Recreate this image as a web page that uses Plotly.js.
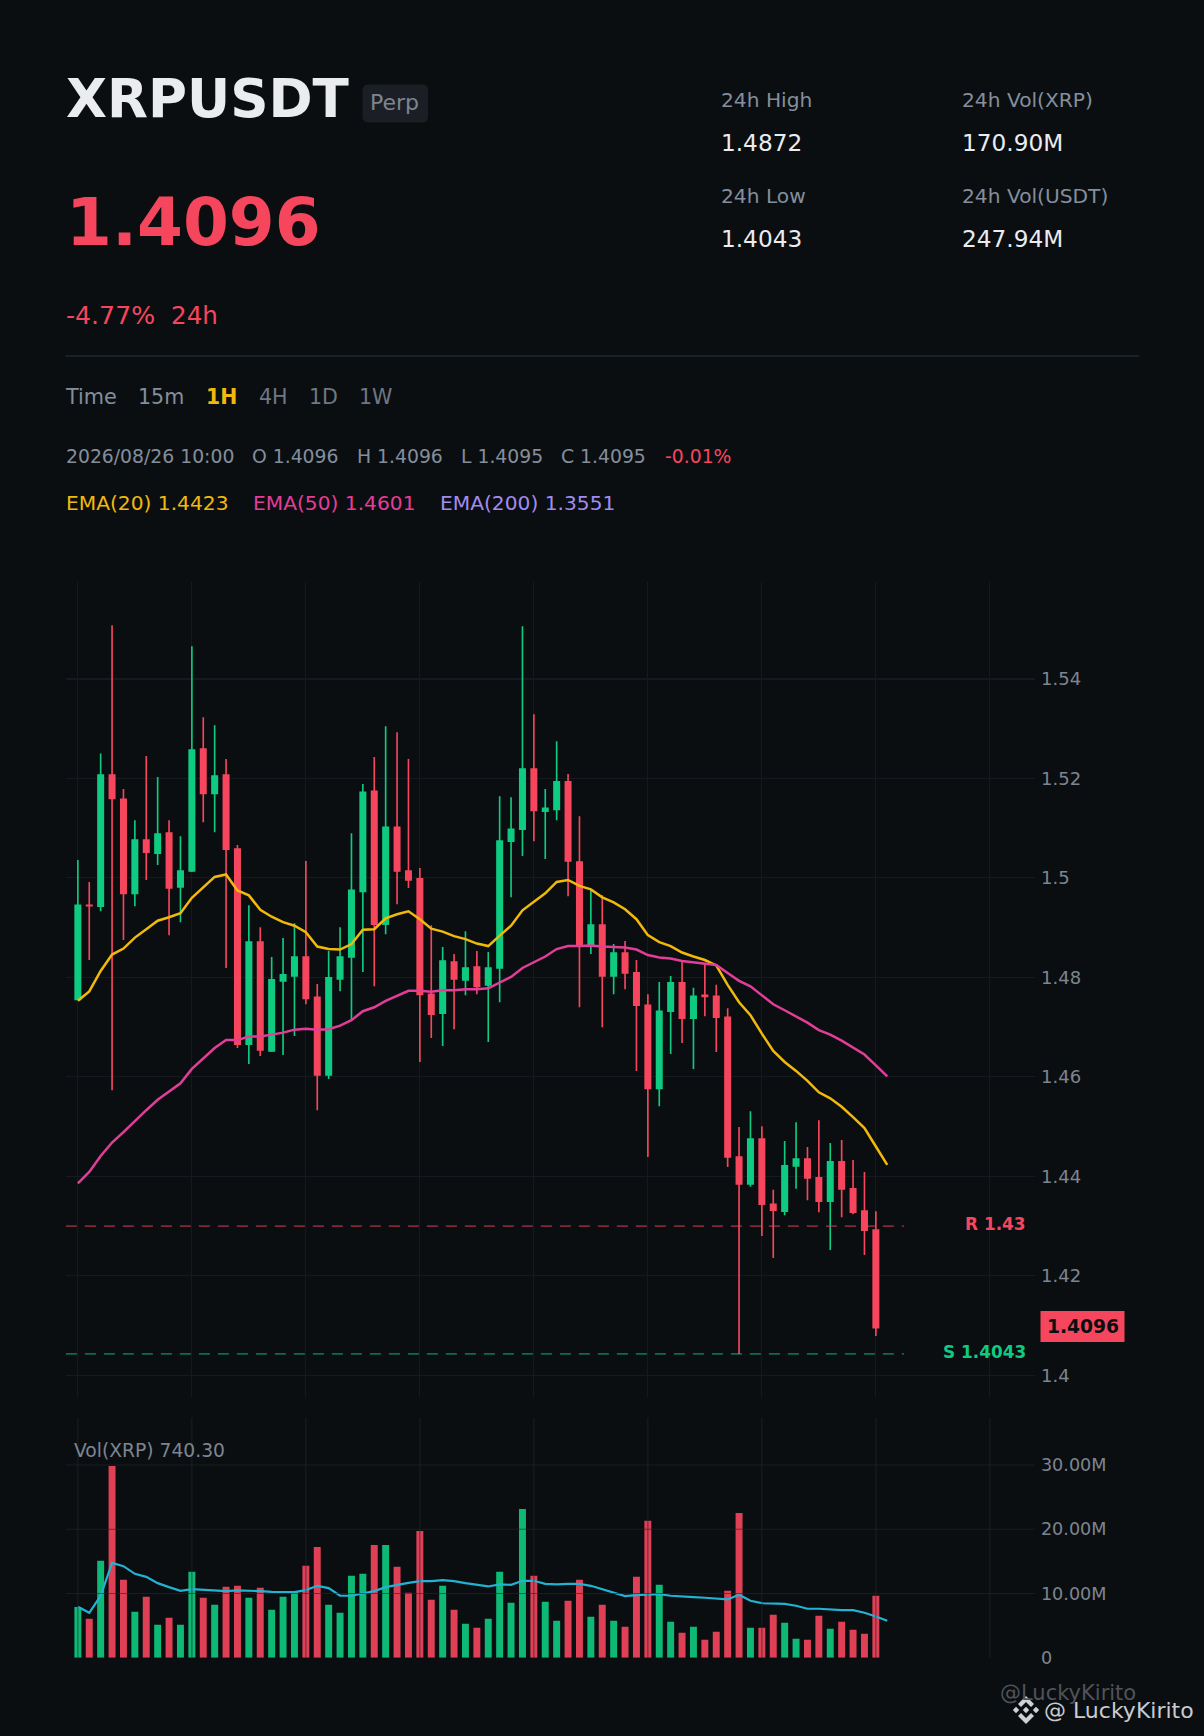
<!DOCTYPE html>
<html>
<head>
<meta charset="utf-8">
<script src="https://cdn.plot.ly/plotly-3.0.1.min.js"></script>
<style>html,body{margin:0;padding:0;background:#0b0e11}#chart{width:1204px;height:1736px}</style>
</head>
<body>
<div id="chart"></div>
<script>
const openPrice = [1.4756,1.4945,1.4943,1.5207,1.5158,1.4969,1.5076,1.5050,1.5090,1.4982,
1.5014,1.5259,1.5170,1.5207,1.5058,1.4666,1.4871,1.4652,1.4793,1.4803,
1.4841,1.4760,1.4604,1.4797,1.4841,1.4973,1.5174,1.4907,1.5102,1.5014,
1.4998,1.4766,1.4728,1.4831,1.4795,1.4821,1.4785,1.4819,1.5074,1.5098,
1.5219,1.5134,1.5138,1.5193,1.5032,1.4865,1.4905,1.4803,1.4849,1.4809,
1.4744,1.4577,1.4732,1.4789,1.4718,1.4764,1.4762,1.4720,1.4439,1.4385,
1.4475,1.4344,1.4330,1.4421,1.4435,1.4397,1.4350,1.4429,1.4375,1.4330,1.4292];
const closePrice = [1.4945,1.4944,1.5207,1.5160,1.4969,1.5076,1.5052,1.5088,1.4980,1.5014,
1.5257,1.5170,1.5205,1.5058,1.4666,1.4871,1.4654,1.4795,1.4805,1.4841,
1.4758,1.4604,1.4799,1.4841,1.4975,1.5172,1.4907,1.5102,1.5014,1.4996,
1.4766,1.4726,1.4833,1.4797,1.4819,1.4782,1.4819,1.5074,1.5098,1.5219,
1.5136,1.5140,1.5193,1.5034,1.4865,1.4905,1.4803,1.4849,1.4809,1.4744,
1.4577,1.4732,1.4789,1.4718,1.4762,1.4762,1.4720,1.4439,1.4385,1.4475,
1.4344,1.4332,1.4421,1.4435,1.4397,1.4350,1.4429,1.4375,1.4328,1.4292,1.4096];
const highPrice = [1.5036,1.4992,1.5250,1.5508,1.5179,1.5116,1.5245,1.5203,1.5116,1.5084,
1.5466,1.5323,1.5307,1.5239,1.5066,1.4945,1.4901,1.4841,1.4879,1.4909,
1.5034,1.4787,1.4853,1.4901,1.5090,1.5189,1.5243,1.5305,1.5293,1.5239,
1.5020,1.4905,1.4861,1.4847,1.4893,1.4853,1.4851,1.5164,1.5162,1.5506,
1.5329,1.5179,1.5275,1.5209,1.5124,1.4975,1.4965,1.4867,1.4873,1.4835,
1.4766,1.4791,1.4803,1.4835,1.4779,1.4828,1.4785,1.4738,1.4499,1.4531,
1.4501,1.4373,1.4471,1.4509,1.4459,1.4513,1.4467,1.4473,1.4433,1.4409,1.4330];
const lowPrice = [1.4756,1.4835,1.4933,1.4573,1.4875,1.4943,1.4996,1.5026,1.4885,1.4911,
1.5012,1.5112,1.5092,1.4819,1.4658,1.4626,1.4642,1.4650,1.4644,1.4682,
1.4746,1.4533,1.4596,1.4772,1.4714,1.4811,1.4782,1.4887,1.4947,1.4980,
1.4630,1.4678,1.4662,1.4696,1.4764,1.4766,1.4670,1.4750,1.4961,1.5044,
1.5074,1.5038,1.5116,1.4963,1.4740,1.4847,1.4700,1.4766,1.4776,1.4612,
1.4439,1.4541,1.4646,1.4668,1.4616,1.4722,1.4650,1.4419,1.4043,1.4379,
1.4280,1.4236,1.4322,1.4375,1.4352,1.4328,1.4252,1.4318,1.4324,1.4242,1.4079];
const ema20 = [1.4753,1.4772,1.4813,1.4846,1.4858,1.4880,1.4897,1.4914,1.4921,1.4929,
1.4960,1.4981,1.5002,1.5007,1.4975,1.4965,1.4936,1.4922,1.4911,1.4904,
1.4891,1.4862,1.4857,1.4856,1.4867,1.4896,1.4897,1.4919,1.4927,1.4933,
1.4917,1.4898,1.4892,1.4883,1.4877,1.4868,1.4863,1.4884,1.4904,1.4935,
1.4952,1.4969,1.4992,1.4996,1.4984,1.4977,1.4961,1.4951,1.4937,1.4917,
1.4885,1.4871,1.4863,1.4850,1.4842,1.4835,1.4824,1.4785,1.4750,1.4724,
1.4687,1.4652,1.4630,1.4612,1.4592,1.4569,1.4557,1.4540,1.4519,1.4497,1.4460,1.4423];
const ema50 = [1.4386,1.4409,1.4441,1.4468,1.4489,1.4512,1.4533,1.4554,1.4570,1.4587,
1.4616,1.4637,1.4658,1.4674,1.4674,1.4681,1.4681,1.4685,1.4689,1.4695,
1.4697,1.4695,1.4696,1.4703,1.4714,1.4732,1.4740,1.4753,1.4763,1.4773,
1.4773,1.4771,1.4774,1.4774,1.4776,1.4776,1.4778,1.4789,1.4801,1.4819,
1.4830,1.4842,1.4857,1.4863,1.4863,1.4864,1.4862,1.4861,1.4860,1.4856,
1.4845,1.4840,1.4838,1.4833,1.4830,1.4828,1.4825,1.4809,1.4793,1.4782,
1.4764,1.4746,1.4734,1.4722,1.4709,1.4694,1.4685,1.4673,1.4659,1.4645,1.4623,1.4601];
const volumeM = [7.88,6.06,15.08,29.84,12.12,7.15,9.48,5.13,6.22,5.13,
13.37,9.33,8.24,11.04,11.19,9.33,10.88,7.46,9.48,10.26,
14.30,17.25,8.24,6.99,12.75,13.06,17.56,17.56,14.15,10.10,
19.74,9.02,11.19,7.46,5.28,4.66,6.06,13.37,8.55,23.16,
12.75,8.70,5.75,8.86,12.12,6.37,8.24,5.75,4.82,12.59,
21.30,11.35,5.60,3.89,4.82,2.80,4.04,10.41,22.54,4.66,
4.66,6.68,5.44,2.95,2.80,6.53,4.51,5.60,4.35,3.73,9.64];
const volumeMA = [7.93,6.99,9.64,14.77,14.25,13.06,12.59,11.61,10.98,10.41,
10.67,10.57,10.36,10.36,10.47,10.36,10.36,10.26,10.21,10.21,
10.52,11.19,10.83,9.64,9.64,9.95,10.36,10.98,11.35,11.66,
11.92,11.92,12.07,11.92,11.61,11.35,11.09,11.40,11.35,11.97,
11.97,11.50,11.40,11.50,11.50,11.19,10.67,10.10,9.59,9.74,
9.79,9.90,9.64,9.48,9.43,9.33,9.22,9.07,9.79,8.86,
8.50,8.39,8.39,8.08,7.62,7.62,7.46,7.41,7.41,6.99,6.42,5.75];
const resistance = 1.43, support = 1.4043, lastPrice = '1.4096';
const priceTicks = [1.4,1.42,1.44,1.46,1.48,1.5,1.52,1.54];
const volTicks = [0,10,20,30];
const volTickLabels = ['0','10.00M','20.00M','30.00M'];
const stats = [['24h High','1.4872'],['24h Low','1.4043'],['24h Vol(XRP)','170.90M'],['24h Vol(USDT)','247.94M']];
const intervals = ['15m','1H','4H','1D','1W'];
const ohlcRow = ['2026/08/26 10:00','O 1.4096','H 1.4096','L 1.4095','C 1.4095'];
const emaRow = ['EMA(20) 1.4423','EMA(50) 1.4601','EMA(200) 1.3551'];

const W=1204,H=1736, FONT='"DejaVu Sans", sans-serif';
const UP='#0ecb81', DOWN='#f6465d', BG='#0b0e11', GRAY='#848e9c', GRID='#161a20', GRID_TOP='rgba(34,38,44,0.62)', PINK='#e23d98';
const px=x=>x/W, py=y=>1-y/H;
const idx=n=>Array.from({length:n},(_,i)=>i);
function T(x,y,text,size,color,o){o=o||{};return {xref:'paper',yref:'paper',x:px(x),y:py(y),text:o.bold?'<b>'+text+'</b>':text,showarrow:false,
  xanchor:o.anchor||'left',yanchor:'middle',borderpad:0,borderwidth:0,font:{family:FONT,size:size,color:color}};}
function poly(pts,fill){return {type:'path',xref:'paper',yref:'paper',layer:'above',line:{width:0},fillcolor:fill,
  path:'M'+pts.map(p=>px(p[0])+','+py(p[1])).join('L')+'Z'};}
function rrect(x0,y0,x1,y1,r,fill){const X=px,Y=py;return {type:'path',xref:'paper',yref:'paper',layer:'above',line:{width:0},fillcolor:fill,
  path:`M${X(x0+r)},${Y(y0)}L${X(x1-r)},${Y(y0)}Q${X(x1)},${Y(y0)} ${X(x1)},${Y(y0+r)}L${X(x1)},${Y(y1-r)}Q${X(x1)},${Y(y1)} ${X(x1-r)},${Y(y1)}L${X(x0+r)},${Y(y1)}Q${X(x0)},${Y(y1)} ${X(x0)},${Y(y1-r)}L${X(x0)},${Y(y0+r)}Q${X(x0)},${Y(y0)} ${X(x0+r)},${Y(y0)}Z`};}

const barColors = closePrice.map((c,i)=>c>=openPrice[i]?'rgba(14,203,129,0.9)':'rgba(246,70,93,0.9)');
const levelX=[-1.05,72.46];
const traces=[
 {type:'candlestick',x:idx(closePrice.length),open:openPrice,high:highPrice,low:lowPrice,close:closePrice,xaxis:'x',yaxis:'y',whiskerwidth:0,
  increasing:{line:{color:UP,width:1.65},fillcolor:UP},decreasing:{line:{color:DOWN,width:1.65},fillcolor:DOWN},showlegend:false,hoverinfo:'skip'},
 {type:'scatter',mode:'lines',x:levelX,y:[resistance,resistance],xaxis:'x',yaxis:'y',line:{color:'rgba(246,70,93,0.5)',width:1.65,dash:'11px,8px'},hoverinfo:'skip'},
 {type:'scatter',mode:'lines',x:levelX,y:[support,support],xaxis:'x',yaxis:'y',line:{color:'rgba(14,203,129,0.5)',width:1.65,dash:'11px,8px'},hoverinfo:'skip'},
 {type:'scatter',mode:'lines',x:idx(ema20.length),y:ema20,xaxis:'x',yaxis:'y',line:{color:'#f0b90b',width:2.5},hoverinfo:'skip'},
 {type:'scatter',mode:'lines',x:idx(ema50.length),y:ema50,xaxis:'x',yaxis:'y',line:{color:PINK,width:2.5},hoverinfo:'skip'},
 {type:'bar',x:idx(volumeM.length),y:volumeM,xaxis:'x2',yaxis:'y2',width:0.61,marker:{color:barColors,line:{width:0}},hoverinfo:'skip'},
 {type:'scatter',mode:'lines',x:idx(volumeMA.length),y:volumeMA,xaxis:'x2',yaxis:'y2',line:{color:'#22b2d2',width:2.2},hoverinfo:'skip'}
];

const xRange=[-1.04,83.96];
const commonX={range:xRange,showticklabels:false,zeroline:false,showline:false,ticks:'',fixedrange:true,tick0:0,dtick:10};
const layout={width:W,height:H,margin:{l:0,r:0,t:0,b:0,pad:0},paper_bgcolor:BG,plot_bgcolor:BG,showlegend:false,hovermode:false,boxgap:0.53,boxgroupgap:0,
 font:{family:FONT},
 xaxis:Object.assign({},commonX,{domain:[px(66),px(1035)],anchor:'y',showgrid:true,gridcolor:GRID,gridwidth:1.1,rangeslider:{visible:false}}),
 xaxis2:Object.assign({},commonX,{domain:[px(66),px(1035)],anchor:'y2',showgrid:false}),
 yaxis:{domain:[py(1396.7),py(582)],range:[1.3957,1.5595],side:'right',anchor:'x',tickmode:'array',tickvals:priceTicks,ticktext:priceTicks.map(String),showgrid:true,gridcolor:GRID,gridwidth:1.1,
   zeroline:false,showline:false,ticks:'outside',ticklen:1.4,tickcolor:'rgba(0,0,0,0)',tickfont:{family:FONT,size:18,color:'#7d8590'},fixedrange:true},
 yaxis2:{domain:[py(1657.7),py(1417.7)],range:[0,37.36],side:'right',anchor:'x2',tickmode:'array',tickvals:volTicks,ticktext:volTickLabels,showgrid:false,
   zeroline:false,showline:false,ticks:'outside',ticklen:1.4,tickcolor:'rgba(0,0,0,0)',tickfont:{family:FONT,size:17.6,color:'#7d8590'},fixedrange:true},
 shapes:[],annotations:[]
};

// separator, badge, last price tag
layout.shapes.push({type:'line',xref:'paper',yref:'paper',x0:px(65.5),x1:px(1139),y0:py(356),y1:py(356),line:{color:'#1e2733',width:1.6}});
layout.shapes.push(rrect(362.5,84.5,428,122.5,6,'#1b1f25'));
layout.shapes.push({type:'rect',xref:'paper',yref:'paper',x0:px(1040.5),x1:px(1124.5),y0:py(1311),y1:py(1342),fillcolor:DOWN,line:{width:0},layer:'above'});
// volume panel grid sits over the bars
for(let i=0;i<=8;i++) layout.shapes.push({type:'line',layer:'above',xref:'x2',yref:'paper',x0:i*10,x1:i*10,y0:py(1657.7),y1:py(1417.7),line:{color:GRID_TOP,width:1.1}});
volTicks.slice(1).forEach(v=>layout.shapes.push({type:'line',layer:'above',xref:'paper',yref:'y2',x0:px(66),x1:px(1035),y0:v,y1:v,line:{color:GRID_TOP,width:1.1}}));
// watermark logo
const lx=1026,ly=1710,LOGO='#cfd1d4';
const dia=(cx,cy,r)=>poly([[cx,cy-r],[cx+r,cy],[cx,cy+r],[cx-r,cy]],LOGO);
layout.shapes.push(dia(lx,ly,3.2),dia(lx-10,ly,3.2),dia(lx+10,ly,3.2));
layout.shapes.push(poly([[lx,ly-14],[lx+8,ly-6],[lx+5,ly-3],[lx,ly-8],[lx-5,ly-3],[lx-8,ly-6]],LOGO));
layout.shapes.push(poly([[lx,ly+14],[lx+8,ly+6],[lx+5,ly+3],[lx,ly+8],[lx-5,ly+3],[lx-8,ly+6]],LOGO));

const A=layout.annotations;
A.push(T(65.5,99,'XRPUSDT',53.2,'#eaecef',{bold:true}));
A.push(T(370,102.5,'Perp',22,'#7d8590'));
A.push(T(66,222,lastPrice,66,DOWN,{bold:true}));
A.push(T(65.5,316,'-4.77%',25.2,DOWN));
A.push(T(171,316,'24h',24.6,DOWN));
[[721,100,143],[721,195.5,239],[962,100,143],[962,195.5,239]].forEach((p,i)=>{
  A.push(T(p[0],p[1],stats[i][0],20.2,GRAY));
  A.push(T(p[0],p[2],stats[i][1],23.2,'#eaecef'));
});
A.push(T(65,397,'Time',20.8,GRAY));
[138,205.5,259,309,359].forEach((x,i)=>{
  A.push(i===1?T(x,397,intervals[i],20.4,'#f0b90b',{bold:true}):T(x,397,intervals[i],20.6,i===0?GRAY:'#6f7784'));
});
[65.5,252,357,461,561].forEach((x,i)=>A.push(T(x,456.2,ohlcRow[i],18.8,GRAY)));
A.push(T(664.5,456.2,'-0.01%',18.8,DOWN));
[[65.5,'#f0b90b'],[252.5,PINK],[440,'#a08cf0']].forEach((p,i)=>A.push(T(p[0],503.2,emaRow[i],20.2,p[1])));
A.push(T(1026,1224,'R 1.43',16.9,DOWN,{bold:true,anchor:'right'}));
A.push(T(1026,1352,'S 1.4043',16.9,UP,{bold:true,anchor:'right'}));
A.push(T(1082.5,1326,lastPrice,18.7,BG,{bold:true,anchor:'center'}));
A.push(T(74.3,1450,'Vol(XRP) 740.30',18.7,'#7d8590'));
A.push(T(1000,1693,'@LuckyKirito',21,'#4f5359'));
A.push(T(1044,1710,'@ LuckyKirito',22,'#c9cbcf'));

Plotly.newPlot('chart',traces,layout,{displayModeBar:false,staticPlot:true});
</script>
</body>
</html>
